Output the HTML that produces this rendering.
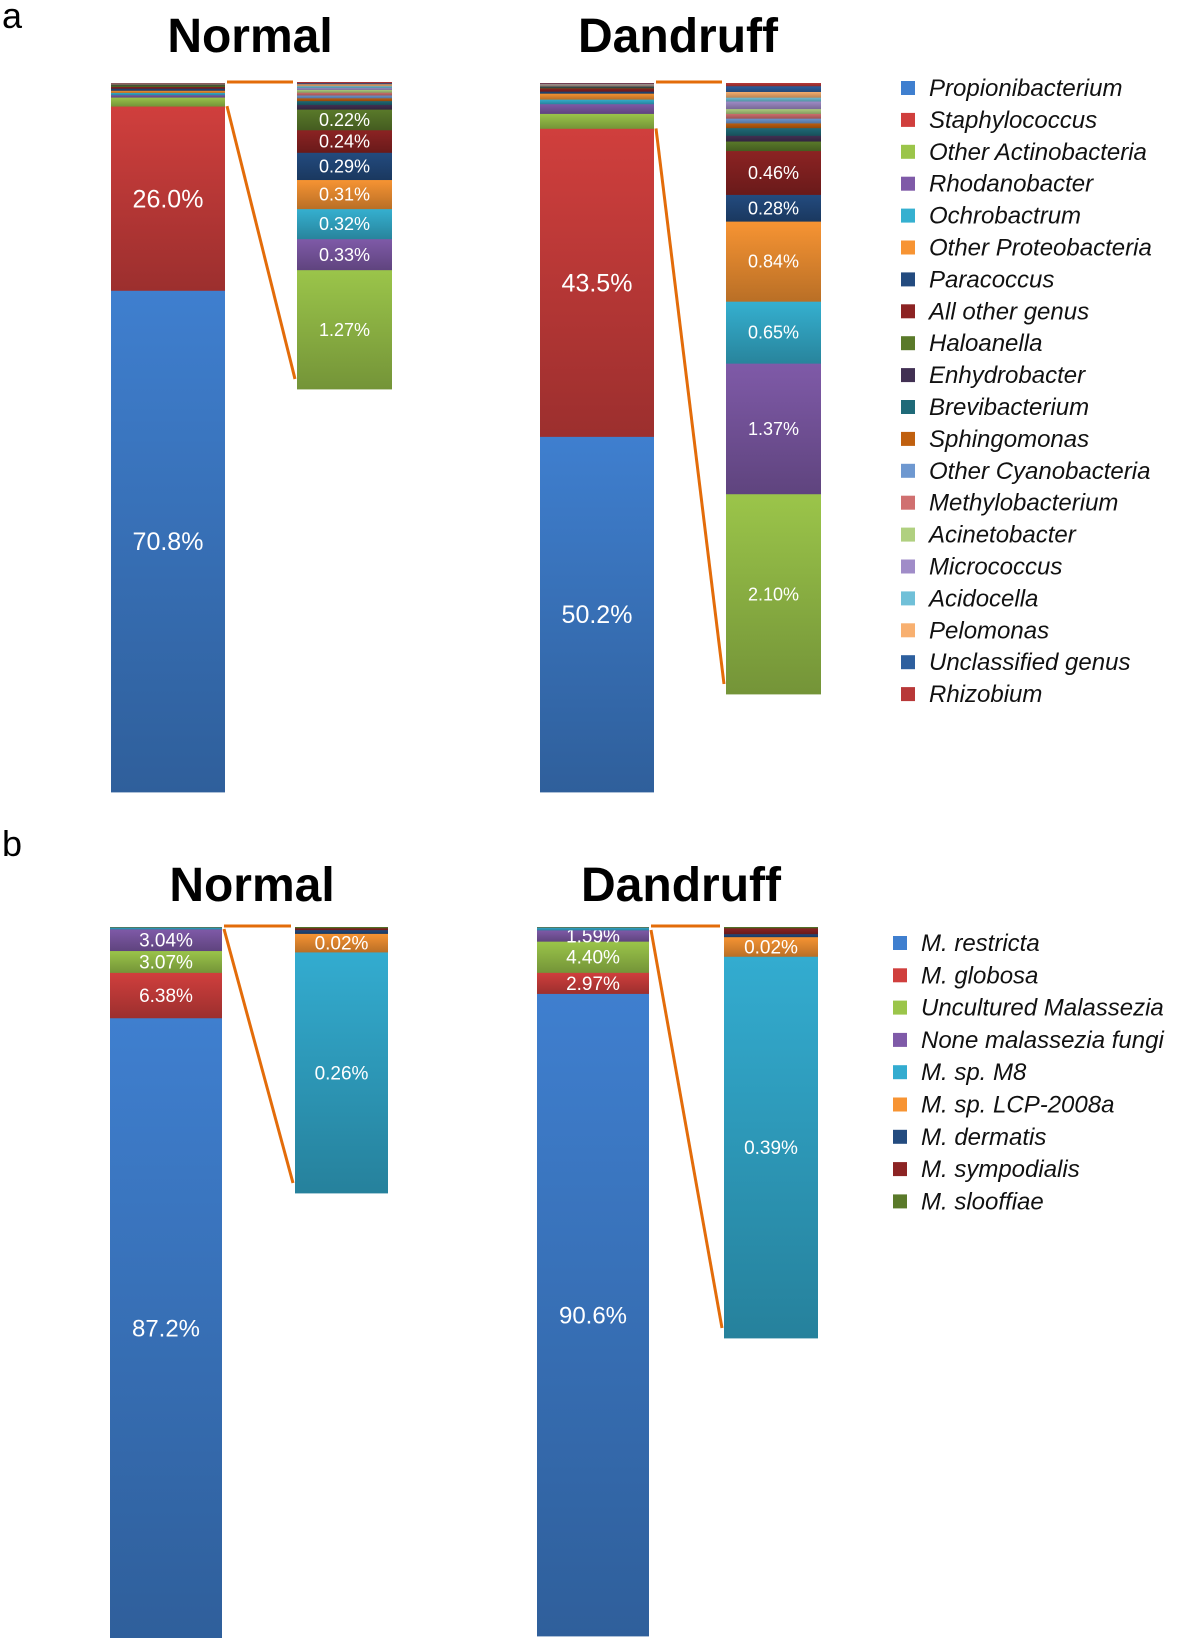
<!DOCTYPE html>
<html><head><meta charset="utf-8"><style>
html,body{margin:0;padding:0;background:#fff;}
svg{display:block;font-family:"Liberation Sans",Arial,sans-serif;}
</style></head><body>
<svg id="chart" width="1200" height="1638" viewBox="0 0 1200 1638">
<defs id="defs"></defs>
<text x="2" y="28" font-size="36" fill="#000">a</text>
<text x="2" y="856" font-size="36" fill="#000">b</text>
<text x="250" y="52" font-size="48" font-weight="bold" text-anchor="middle">Normal</text>
<text x="678" y="52" font-size="48" font-weight="bold" text-anchor="middle">Dandruff</text>
<text x="252" y="901" font-size="48" font-weight="bold" text-anchor="middle">Normal</text>
<text x="681" y="901" font-size="48" font-weight="bold" text-anchor="middle">Dandruff</text>
<g id="marks"></g>
</svg>
<script>
// ---- Panel a (bacteria) ----
const bactCategories = ["Propionibacterium","Staphylococcus","Other Actinobacteria","Rhodanobacter","Ochrobactrum","Other Proteobacteria","Paracoccus","All other genus","Haloanella","Enhydrobacter","Brevibacterium","Sphingomonas","Other Cyanobacteria","Methylobacterium","Acinetobacter","Micrococcus","Acidocella","Pelomonas","Unclassified genus","Rhizobium"];
const bactColors = ["#3f7fcf","#d03f3d","#9bc54a","#7f5aa8","#35b0d0","#f79433","#234b7f","#8c2323","#5a7a2a","#413053","#1f6a78","#c0600f","#6e98d0","#d07070","#b0d080","#a08cc8","#70c0d8","#f8b070","#2d5f9e","#b83838"];
const bactNormal = [70.8,26.0,1.27,0.33,0.32,0.31,0.29,0.24,0.22,0.05,0.04,0.03,0.03,0.03,0.03,0.02,0.02,0.02,0.01,0.01];
const bactDandruff = [50.2,43.5,2.10,1.37,0.65,0.84,0.28,0.46,0.10,0.06,0.08,0.05,0.05,0.05,0.05,0.08,0.04,0.06,0.06,0.03];
const bactNormalLabels = ["70.8%","26.0%","1.27%","0.33%","0.32%","0.31%","0.29%","0.24%","0.22%","","","","","","","","","","",""];
const bactDandruffLabels = ["50.2%","43.5%","2.10%","1.37%","0.65%","0.84%","0.28%","0.46%","","","","","","","","","","","",""];
// ---- Panel b (fungi) ----
const fungCategories = ["M. restricta","M. globosa","Uncultured Malassezia","None malassezia fungi","M. sp. M8","M. sp. LCP-2008a","M. dermatis","M. sympodialis","M. slooffiae"];
const fungColors = ["#3f7fcf","#d03f3d","#9bc54a","#7f5aa8","#33acd0","#f79433","#234b7f","#8c2323","#5a7a2a"];
const fungNormal = [87.2,6.38,3.07,3.04,0.26,0.02,0.004,0.002,0.001];
const fungDandruff = [90.6,2.97,4.40,1.59,0.39,0.02,0.003,0.006,0.001];
const fungNormalLabels = ["87.2%","6.38%","3.07%","3.04%","0.26%","0.02%","","",""];
const fungDandruffLabels = ["90.6%","2.97%","4.40%","1.59%","0.39%","0.02%","","",""];

const NS="http://www.w3.org/2000/svg";
const defs=document.getElementById('defs');
const marks=document.getElementById('marks');
function mk(tag,attrs,parent){const e=document.createElementNS(NS,tag);for(const k in attrs)e.setAttribute(k,attrs[k]);(parent||marks).appendChild(e);return e;}
function darken(hex,f){const n=parseInt(hex.slice(1),16);const r=Math.round(((n>>16)&255)*f),g=Math.round(((n>>8)&255)*f),b=Math.round((n&255)*f);return "rgb("+r+","+g+","+b+")";}
const gradCache={};
function grad(c){if(gradCache[c])return gradCache[c];const id="g"+c.slice(1);const lg=mk('linearGradient',{id:id,x1:0,y1:0,x2:0,y2:1},defs);mk('stop',{offset:0,'stop-color':c},lg);mk('stop',{offset:1,'stop-color':darken(c,0.75)},lg);gradCache[c]="url(#"+id+")";return gradCache[c];}

// stacked bar: values bottom->top, scaled to fill [top,bottom]
function stack(values,colors,labels,from,x,w,top,bottom,fs,firstFs,name){
  let sum=0;for(let i=from;i<values.length;i++)sum+=values[i];
  const yScale=v=>v*(bottom-top)/sum;
  let y=bottom;
  for(let i=from;i<values.length;i++){
    const h=yScale(values[i]);
    const r=mk('rect',{x:x,y:y-h,width:w,height:h+0.4,fill:grad(colors[i])});
    
    
    if(labels[i]){
      const f=(i===0&&firstFs)?firstFs:fs;
      const t=mk('text',{x:x+w/2,y:y-h/2+f*0.36,'font-size':f,fill:'#fff','text-anchor':'middle'});
      t.textContent=labels[i];
      
      
    }
    y-=h;
  }
  return {sum:sum,yOf:v=>bottom-yScale(v)};
}
function connector(x1,y1,x2,y2,name){
  const l=mk('line',{x1:x1,y1:y1,x2:x2,y2:y2,stroke:'#e36c0a','stroke-width':3});
  
  
}
function cum(values,n){let s=0;for(let i=0;i<n;i++)s+=values[i];return s;}
function panel(values,colors,labels,zoomFrom,main,zoom,mainFs,firstFs,zoomFs,name){
  const m=stack(values,colors,labels.map((l,i)=>i<zoomFrom?l:""),0,main.x,main.w,main.top,main.bottom,mainFs,firstFs,name+'-main');
  stack(values,colors,labels,zoomFrom,zoom.x,zoom.w,zoom.top,zoom.bottom,zoomFs,0,name+'-zoom');
  const yz=m.yOf(cum(values,zoomFrom));
  connector(main.x+main.w+2,main.top-1,zoom.x-4,main.top-1,name+'-connector-top');
  connector(main.x+main.w+2,yz,zoom.x-2,zoom.bottom-10,name+'-connector-bottom');
}
panel(bactNormal,bactColors,bactNormalLabels,2,{x:111,w:114,top:83,bottom:792},{x:297,w:95,top:82,bottom:389},25,0,18,'bar-a-normal');
panel(bactDandruff,bactColors,bactDandruffLabels,2,{x:540,w:114,top:83,bottom:792},{x:726,w:95,top:83,bottom:694},25,0,18,'bar-a-dandruff');
panel(fungNormal,fungColors,fungNormalLabels,4,{x:110,w:112,top:927,bottom:1638},{x:295,w:93,top:927,bottom:1193},19,24,19,'bar-b-normal');
panel(fungDandruff,fungColors,fungDandruffLabels,4,{x:537,w:112,top:927,bottom:1636},{x:724,w:94,top:927,bottom:1338},19,24,19,'bar-b-dandruff');

function legend(cats,colors,x,y0,dy,name){
  for(let i=0;i<cats.length;i++){
    const y=y0+i*dy;
    const s=mk('rect',{x:x,y:y-7,width:14,height:14,fill:colors[i]});
    
    
    const t=mk('text',{x:x+28,y:y+8,'font-size':24,'font-style':'italic',fill:'#111'});
    t.textContent=cats[i];
    
    
  }
}
legend(bactCategories,bactColors,901,88,31.9,'legend-a');
legend(fungCategories,fungColors,893,943,32.3,'legend-b');
</script>
</body></html>
